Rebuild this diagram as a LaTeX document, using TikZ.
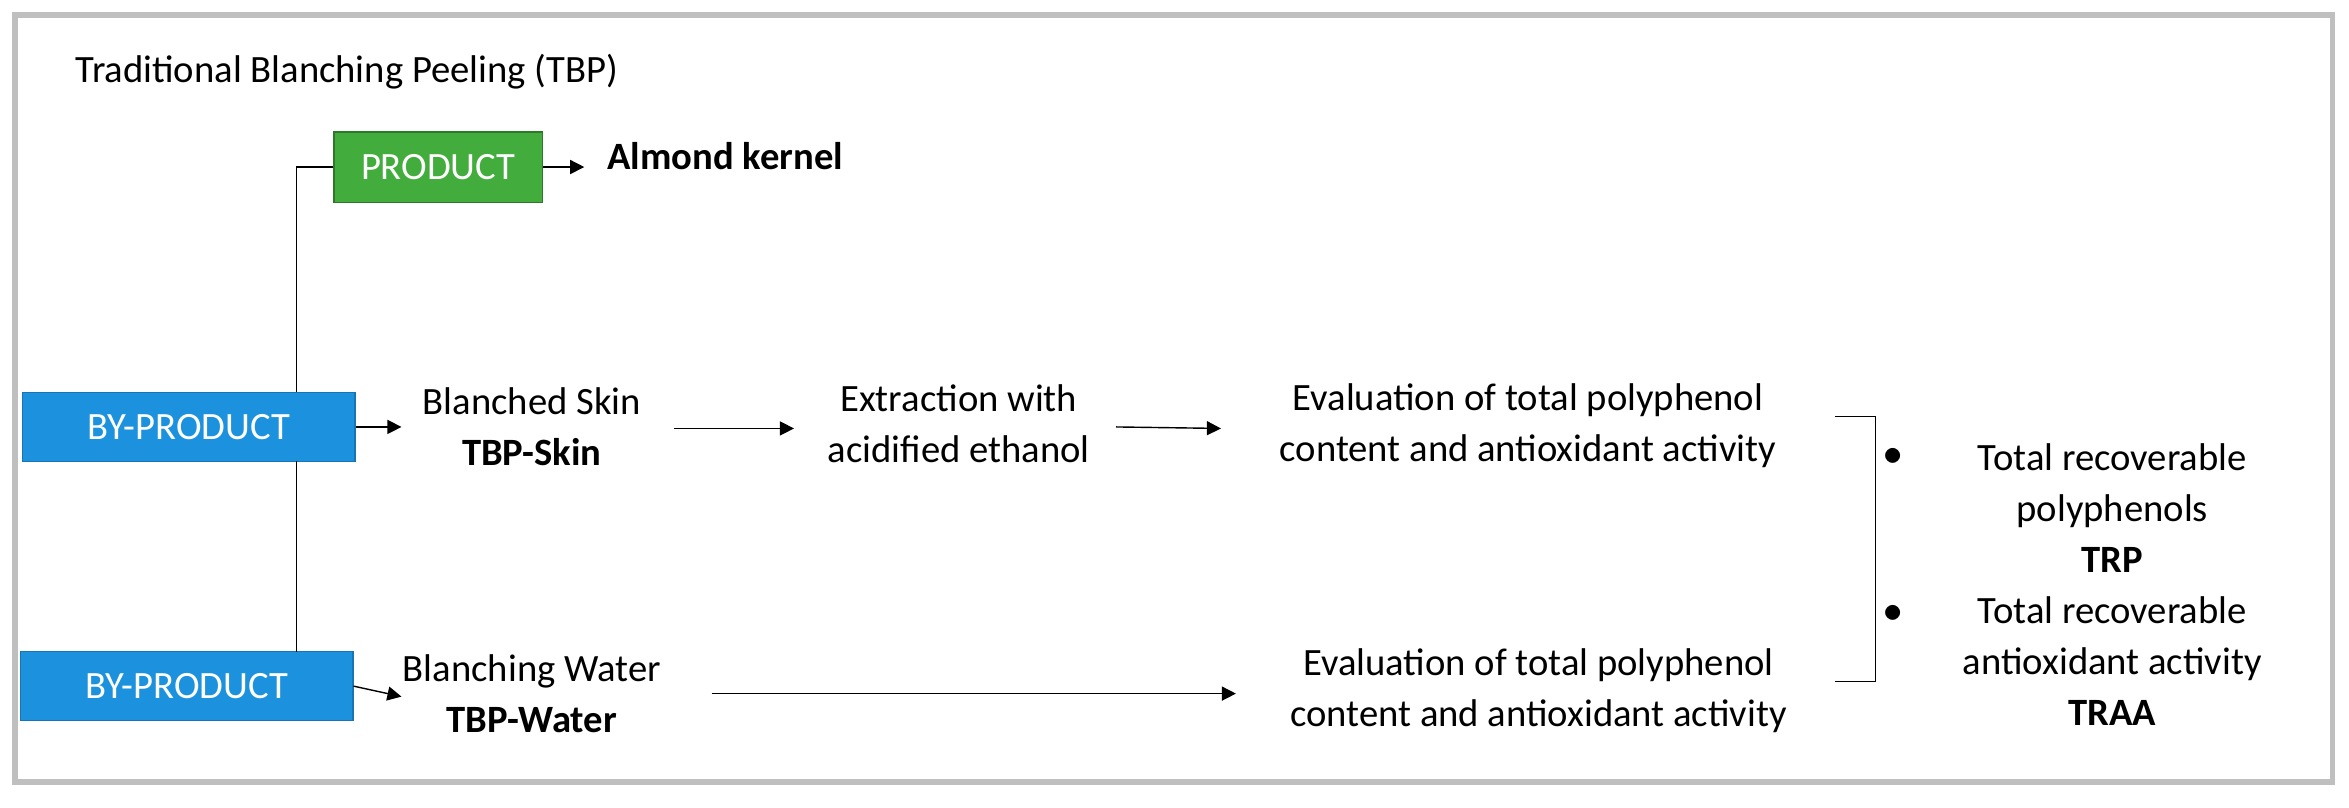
\documentclass[tikz,border=0pt]{standalone}
\usepackage{fontspec}
\setmainfont{Carlito}
\usetikzlibrary{arrows.meta}
\definecolor{grn}{RGB}{66,172,60}
\definecolor{blu}{RGB}{28,146,222}
\begin{document}
\begin{tikzpicture}[x=0.01498cm,y=-0.01498cm,
  txt/.style={font=\fontsize{11}{14.5}\selectfont,align=center,inner sep=0},
  boxg/.style={fill=grn,draw=grn!70!black,text=white,font=\fontsize{11}{13}\selectfont,minimum width=139*0.01498cm,minimum height=47*0.01498cm,inner sep=0},
  boxb/.style={fill=blu,draw=blu!80!black,text=white,font=\fontsize{11}{13}\selectfont,minimum width=222*0.01498cm,minimum height=46*0.01498cm,inner sep=0},
  arr/.style={-{Triangle[length=4pt,width=4pt]},thin},
  ln/.style={thin}]
\useasboundingbox (0,0) rectangle (1568,539);
\draw[line width=1.6pt,black!25] (10,10) rectangle (1557,522);
\node[txt,anchor=west] (title) at (50,48) {Traditional Blanching Peeling (TBP)};
\node[boxg] (prod) at (292.5,111.5) {PRODUCT};
\node[txt,anchor=west,font=\fontsize{11}{14}\selectfont\bfseries] (alm) at (405,104) {Almond kernel};
\node[boxb] (bp1) at (126,285) {BY-PRODUCT};
\node[boxb] (bp2) at (124.5,458) {BY-PRODUCT};
\node[txt] (skin) at (355,285) {Blanched Skin\\\textbf{TBP-Skin}};
\node[txt] (ext) at (640,283) {Extraction with\\acidified ethanol};
\node[txt] (ev1) at (1020,284) {Evaluation of total polyphenol\\content and antioxidant activity};
\node[txt] (wat) at (355,463) {Blanching Water\\\textbf{TBP-Water}};
\node[txt] (ev2) at (1027,461) {Evaluation of total polyphenol\\content and antioxidant activity};
\node[txt] (res) at (1410,390) {Total recoverable\\polyphenols\\\textbf{TRP}\\Total recoverable\\antioxidant activity\\\textbf{TRAA}};
\node[txt] (b1) at (1264,305) {$\bullet$};
\node[txt] (b2) at (1264,410) {$\bullet$};
\draw[ln] (prod.west) -- (198,111.5) -- (198,262);
\draw[ln] (198,308) -- (198,435);
\draw[arr] (prod.east) -- (390,111.5);
\draw[arr] (bp1.east) -- (268,285);
\draw[arr] (bp2.east) -- (268,465);
\draw[arr] (450,286) -- (530,286);
\draw[arr] (745,285) -- (815,286);
\draw[arr] (475,463) -- (825,463);
\draw[ln] (1225,278) -- (1252,278) -- (1252,455) -- (1225,455);
\end{tikzpicture}
\end{document}
